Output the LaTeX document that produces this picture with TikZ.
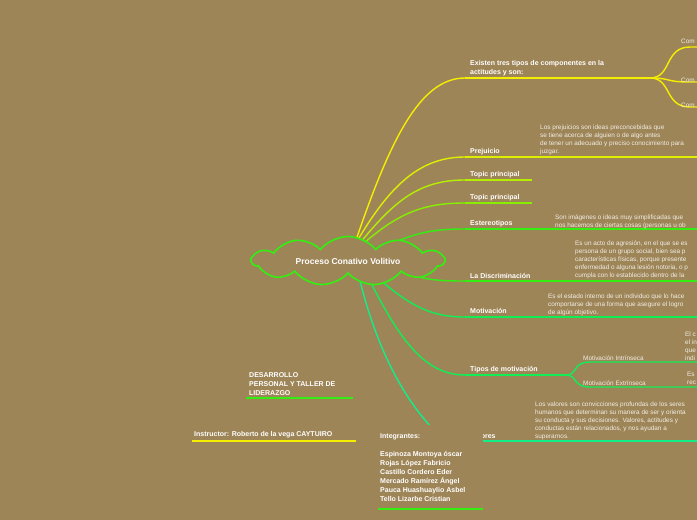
\documentclass[tikz,border=0pt]{standalone}
\usepackage{fontspec}
\setmainfont{Liberation Sans}
\usetikzlibrary{shapes.symbols}
\definecolor{bg}{HTML}{9E8558}
\definecolor{txt}{HTML}{F2EEE6}
\definecolor{cY}{HTML}{F5EE00}
\definecolor{cP}{HTML}{DDEE00}
\definecolor{cT1}{HTML}{B5EE00}
\definecolor{cT2}{HTML}{88EE00}
\definecolor{cG}{HTML}{33EE11}
\definecolor{cM}{HTML}{11EE55}
\definecolor{cV}{HTML}{11EE88}
\tikzset{
 lbl/.style={anchor=south west,inner sep=1pt,font=\fontsize{7}{9}\selectfont\bfseries,text=white,align=left},
 desc/.style={anchor=south west,inner sep=1pt,font=\fontsize{6.4}{8}\selectfont,text=txt,align=left},
 br/.style={line width=1.4pt},
 ul/.style={line width=1.6pt}
}
\begin{document}
\begin{tikzpicture}[x=1pt,y=-1pt]
\fill[bg] (0,0) rectangle (697,520);
\clip (0,0) rectangle (697,520);
\useasboundingbox (0,0) rectangle (697,520);
\coordinate (o) at (355,243);
\coordinate (e1) at (465,78);
\draw[br,cY] (o) .. controls (390,140) and (420,78) .. (e1);
\draw[ul,cY] (e1) -- (650,78) coordinate (s1);
\draw[br,cY] (s1) .. controls (672,78) and (664,47) .. (690,47) -- (697,47);
\draw[br,cY] (s1) .. controls (672,78) and (664,82) .. (690,82) -- (697,82);
\draw[br,cY] (s1) .. controls (672,78) and (664,107) .. (690,107) -- (697,107);
\node[desc] (c1) at (680,45) {Com};
\node[desc] (c2) at (680,84) {Com};
\node[desc] (c3) at (680,109) {Com};
\node[lbl] (n1) at (469,77) {Existen tres tipos de componentes en la\\actitudes y son:};

\draw[br,cP] (356,243) .. controls (390,185) and (420,157) .. (465,157) coordinate (e2);
\draw[ul,cP] (e2) -- (697,157);
\node[lbl] (n2) at (469,156) {Prejuicio};
\node[desc] (d2) at (539,156) {Los prejuicios son ideas preconcebidas que\\se tiene acerca de alguien o de algo antes\\de tener un adecuado y preciso conocimiento para\\juzgar.};

\draw[br,cT1] (360,243) .. controls (395,200) and (420,180) .. (465,180) coordinate (e3);
\draw[ul,cT1] (e3) -- (532,180);
\node[lbl] (n3) at (469,179) {Topic principal};

\draw[br,cT2] (364,243) .. controls (400,212) and (425,203) .. (465,203) coordinate (e4);
\draw[ul,cT2] (e4) -- (532,203);
\node[lbl] (n4) at (469,202) {Topic principal};

\draw[br,cG] (395,242) .. controls (420,232) and (435,229) .. (465,229) coordinate (e5);
\draw[ul,cG] (e5) -- (697,229);
\node[lbl] (n5) at (469,228) {Estereotipos};
\node[desc] (d5) at (554,230) {Son imágenes o ideas muy simplificadas que\\nos hacemos de ciertas cosas (personas u ob};

\draw[br,cG] (410,275) .. controls (430,280) and (440,281) .. (465,281) coordinate (e6);
\draw[ul,cG] (e6) -- (697,281);
\node[lbl] (n6) at (469,280) {La Discriminación};
\node[desc] (d6) at (574,280) {Es un acto de agresión, en el que se es\\persona de un grupo social, bien sea p\\características físicas, porque presente\\enfermedad o alguna lesión notoria, o p\\cumpla con lo establecido dentro de la};

\draw[br,cM] (380,280) .. controls (410,305) and (430,317) .. (465,317) coordinate (e7);
\draw[ul,cM] (e7) -- (697,317);
\node[lbl] (n7) at (469,315) {Motivación};
\node[desc] (d7) at (547,317) {Es el estado interno de un individuo que lo hace\\comportarse de una forma que asegure el logro\\de algún objetivo.};

\draw[br,cM] (370,281) .. controls (400,340) and (425,375) .. (465,375) coordinate (e8);
\draw[ul,cM] (e8) -- (566,375) coordinate (s8);
\draw[br,cM] (s8) .. controls (578,375) and (572,362) .. (590,362) -- (697,362);
\draw[br,cM] (s8) .. controls (578,375) and (572,387) .. (590,387) -- (697,387);
\node[lbl] (n8) at (469,374) {Tipos de motivación};
\node[desc] (m1) at (582,362) {Motivación Intrínseca};
\node[desc] (m2) at (582,387) {Motivación Extrínseca};
\node[desc] (d8a) at (684,362) {El c\\el in\\que\\indi};
\node[desc] (d8b) at (686,386) {Es\\rec};

\draw[br,cV] (360,281) .. controls (375,340) and (400,400) .. (445,441) coordinate (e9);
\draw[ul,cV] (e9) -- (697,441);
\node[lbl] (n9) at (469.5,440) {Valores};
\node[desc] (d9) at (534,441) {Los valores son convicciones profundas de los seres\\humanos que determinan su manera de ser y orienta\\su conducta y sus decisiones. Valores, actitudes y\\conductas están relacionados, y nos ayudan a\\superarnos.};

\fill[bg] (376,425) rectangle (482.5,506);
\node[lbl,anchor=north west] (int) at (379,432) {Integrantes:\\[9pt]Espinoza Montoya óscar\\Rojas López Fabricio\\Castillo Cordero Eder\\Mercado Ramírez Ángel\\Pauca Huashuaylio Asbel\\Tello Lizarbe Cristian};
\draw[ul,cG] (378,509) -- (483,509);

\node[lbl] (des) at (248,397) {DESARROLLO\\PERSONAL Y TALLER DE\\LIDERAZGO};
\draw[ul,cG] (246,398) -- (353,398);
\node[lbl] (ins) at (193,439) {Instructor: Roberto de la vega CAYTUIRO};
\draw[ul,cY] (192,441) -- (356,441);

\node[cloud, cloud puffs=11, cloud puff arc=100, aspect=4.8, draw=cG, line width=1.6pt, fill=bg, minimum width=192pt, minimum height=40pt, inner sep=0pt, font=\fontsize{8.5}{10}\selectfont\bfseries, text=white] (root) at (348,261) {Proceso Conativo Volitivo};
\end{tikzpicture}
\end{document}
